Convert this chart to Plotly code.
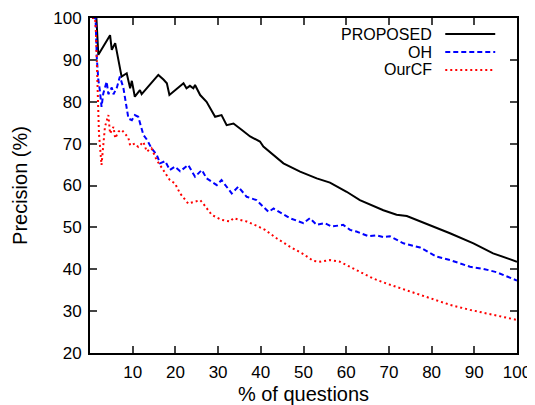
import plotly.graph_objects as go

# PROPOSED (black solid)
prop_x = [0.5, 1.5, 1.95, 4.7, 5.1, 5.9, 7.4, 8.6, 9.4, 9.8, 10.5, 11.7, 12.1, 16.0, 17.2, 18.0, 18.6,
          21.9, 22.6, 23.4, 24.2, 24.6, 25.8, 27.3, 29.3, 30.8, 32.0, 33.6, 35.5, 37.5, 39.8, 40.6,
          45.3, 49.2, 53.1, 56.2, 60.1, 63.2, 68.7, 71.8, 74.2, 79.6, 84.3, 89.8, 94.4, 100]
prop_y = [100, 100, 91.2, 95.9, 92.4, 94.0, 86.0, 86.8, 83.2, 85.0, 81.2, 82.8, 81.8, 86.4, 85.3, 84.4, 81.6,
          84.4, 83.2, 83.8, 83.2, 84.0, 81.6, 80.0, 76.4, 76.8, 74.4, 74.8, 73.3, 71.7, 70.5, 69.3,
          65.3, 63.3, 61.7, 60.7, 58.5, 56.5, 54.1, 53.0, 52.7, 50.6, 48.6, 46.2, 43.8, 41.8]

# OH (blue dashed)
oh_x = [0.5, 1.3, 1.6, 1.95, 2.3, 2.7, 3.1, 3.9, 4.3, 5.1, 5.5, 6.3, 7.0, 7.8, 9.0, 9.8, 10.5, 11.3,
        12.5, 13.3, 14.4, 15.6, 16.4, 17.6, 18.7, 19.9, 21.1, 22.2, 23.0, 24.6, 26.2, 27.3, 29.7,
        30.8, 33.2, 34.7, 36.7, 39.0, 41.8, 43.0, 46.8, 50.0, 51.5, 53.1, 55.0, 56.6, 59.3, 60.9,
        62.4, 65.2, 67.1, 68.7, 70.2, 73.4, 77.3, 81.2, 84.3, 89.0, 92.1, 95.2, 100]
oh_y = [100, 100, 90.4, 85.2, 82.8, 78.8, 81.9, 84.8, 81.8, 83.4, 81.8, 83.4, 86.0, 83.4, 76.0, 75.6, 76.8, 76.4,
        72.1, 71.0, 68.9, 67.4, 65.3, 65.8, 63.7, 64.5, 63.4, 64.2, 64.9, 62.1, 63.7, 61.7, 60.1,
        61.3, 58.1, 59.7, 57.3, 56.5, 53.7, 54.5, 52.2, 51.0, 52.2, 50.6, 51.0, 50.2, 50.6, 49.4,
        49.0, 47.9, 48.1, 47.7, 47.9, 46.2, 45.2, 43.0, 42.2, 40.6, 40.1, 39.3, 37.3]

# OurCF (red dotted)
cf_x = [0.5, 1.2, 1.4, 1.6, 1.95, 2.1, 2.7, 3.1, 3.5, 4.3, 4.7, 5.5, 5.9, 6.7, 7.4, 8.2, 9.0, 9.4,
        10.5, 11.3, 12.5, 13.3, 14.4, 15.6, 17.2, 18.7, 19.9, 21.1, 23.0, 24.2, 25.8, 26.5, 28.5,
        30.8, 32.8, 33.6, 36.7, 39.0, 41.0, 43.7, 46.8, 50.0, 52.3, 53.9, 56.2, 58.5, 62.4, 66.3,
        69.4, 74.2, 78.8, 84.3, 89.0, 94.4, 100]
cf_y = [100, 100, 96.3, 88.4, 77.2, 72.4, 64.9, 69.2, 74.0, 76.8, 72.4, 74.0, 71.3, 72.9, 73.3, 72.4, 71.3, 69.6,
        70.0, 69.2, 70.4, 68.1, 68.9, 66.1, 63.7, 61.3, 60.5, 58.1, 55.7, 56.1, 56.5, 55.7, 53.0,
        51.8, 51.4, 52.2, 51.4, 50.4, 49.4, 47.4, 45.4, 43.6, 42.0, 41.8, 42.2, 41.8, 39.8, 37.8,
        36.6, 35.0, 33.4, 31.5, 30.3, 29.1, 27.9]

x_ticks = [10, 20, 30, 40, 50, 60, 70, 80, 90, 100]
y_ticks = [20, 30, 40, 50, 60, 70, 80, 90, 100]

series = [
    ("PROPOSED", prop_x, prop_y, "black", "solid"),
    ("OH", oh_x, oh_y, "blue", "5px,3px"),
    ("OurCF", cf_x, cf_y, "red", "2px,3px"),
]

FONT = "Liberation Sans, Arial, Helvetica, sans-serif"
fig = go.Figure()
for name, xs, ys, col, dash in series:
    fig.add_trace(go.Scatter(x=xs, y=ys, mode="lines", name=name,
                             line=dict(color=col, dash=dash, width=2), showlegend=False))

# manual legend (text left of sample, as in the original)
leg_y = [0.952, 0.8985, 0.845]
for (name, xs, ys, col, dash), ly in zip(series, leg_y):
    fig.add_annotation(x=0.804, y=ly, xref="paper", yref="paper", text=name, showarrow=False,
                       xanchor="right", yanchor="middle", borderpad=0,
                       font=dict(size=16, color="black", family=FONT))
    fig.add_shape(type="line", xref="paper", yref="paper", x0=0.832, x1=0.949, y0=ly, y1=ly,
                  line=dict(color=col, dash=dash, width=2))

# the page body adds an 8px offset; figure sized so the plot area sits where the original's does
fig.update_layout(
    width=527, height=397,
    margin=dict(l=82, r=18, t=10, b=52),
    plot_bgcolor="white", paper_bgcolor="white",
    font=dict(family=FONT, size=17, color="black"),
)
fig.update_xaxes(range=[0, 100], tickvals=x_ticks, ticks="inside", ticklen=7, tickwidth=1.5,
                 showline=True, linecolor="black", linewidth=2, mirror="ticks", showgrid=False,
                 zeroline=False, automargin=False, ticklabelstandoff=3,
                 title=dict(text="% of questions", standoff=10),
                 tickfont=dict(size=17))
fig.update_yaxes(range=[20, 100], tickvals=y_ticks, ticks="inside", ticklen=7, tickwidth=1.5,
                 showline=True, linecolor="black", linewidth=2, mirror="ticks", showgrid=False,
                 zeroline=False, automargin=False, ticklabelstandoff=3,
                 title=dict(text="Precision (%)", standoff=20),
                 tickfont=dict(size=17))
fig.write_html("out.html")
